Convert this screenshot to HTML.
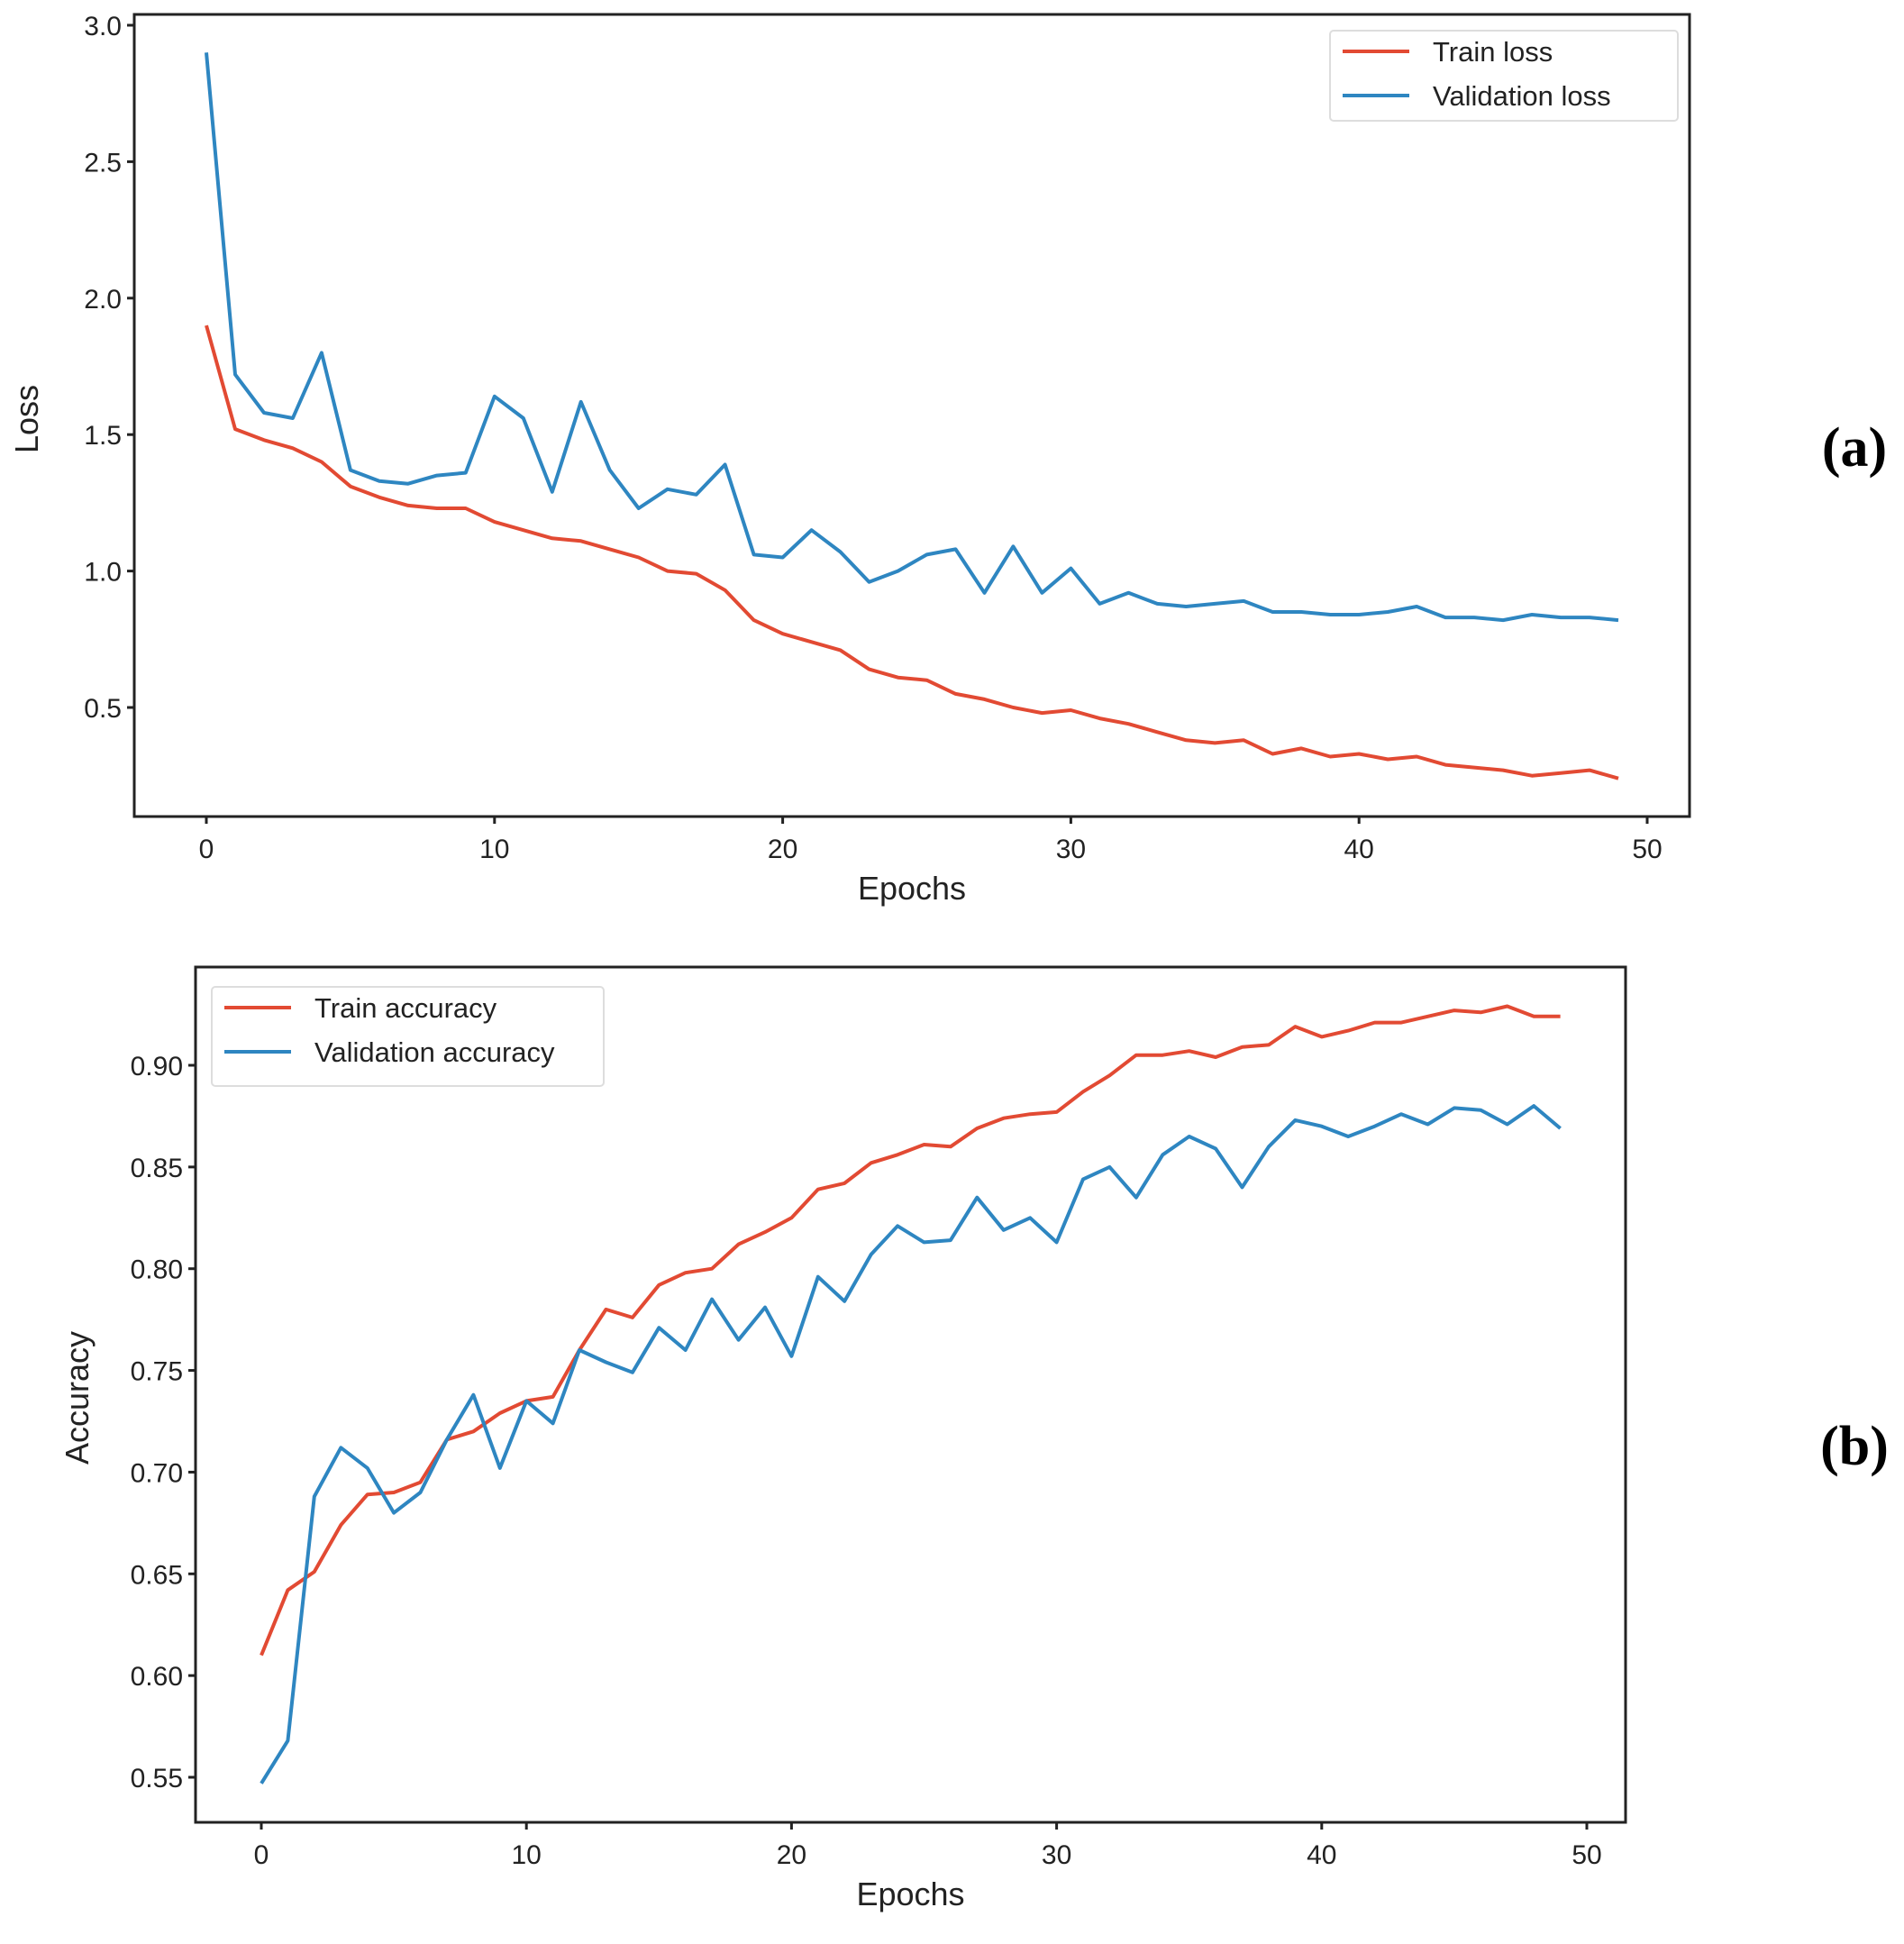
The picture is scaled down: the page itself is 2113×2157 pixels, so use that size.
<!DOCTYPE html>
<html><head><meta charset="utf-8"><style>
html,body{margin:0;padding:0;background:#fff;}
svg{display:block;font-family:"Liberation Sans",sans-serif;}
</style></head><body>
<svg id="s" width="2113" height="2157" xmlns="http://www.w3.org/2000/svg">
<rect width="2113" height="2157" fill="#fff"/>
<g id="g"></g>
<text x="2058" y="517" font-family="Liberation Serif" font-weight="bold" font-size="62" text-anchor="middle" fill="#000">(a)</text>
<text x="2058" y="1625" font-family="Liberation Serif" font-weight="bold" font-size="62" text-anchor="middle" fill="#000">(b)</text>
</svg>
<script>
const g=document.getElementById('g');let h='';
function plot(o){
 const X=e=>o.x0+e*(o.x50-o.x0)/50, Y=v=>o.yA+(v-o.vA)*(o.yB-o.yA)/(o.vB-o.vA);
 for(const [d,c] of [[o.a,'#e24a33'],[o.b,'#2e86c1']]){
  h+=`<polyline fill="none" stroke="${c}" stroke-width="4" stroke-linejoin="round" points="${d.map((v,i)=>X(i).toFixed(1)+','+Y(v).toFixed(1)).join(' ')}"/>`;}
 h+=`<rect x="${o.L}" y="${o.T}" width="${o.R-o.L}" height="${o.B-o.T}" fill="none" stroke="#222" stroke-width="3"/>`;
 for(let e=0;e<=50;e+=10){const x=X(e);h+=`<line x1="${x}" y1="${o.B}" x2="${x}" y2="${o.B+8}" stroke="#222" stroke-width="3"/><text x="${x}" y="${o.B+46}" font-size="30" text-anchor="middle" fill="#222">${e}</text>`;}
 for(const v of o.yt){const y=Y(v);h+=`<line x1="${o.L-8}" y1="${y}" x2="${o.L}" y2="${y}" stroke="#222" stroke-width="3"/><text x="${o.L-14}" y="${y+11}" font-size="30" text-anchor="end" fill="#222">${v.toFixed(o.dec)}</text>`;}
 h+=`<text x="${(o.L+o.R)/2}" y="${o.B+92}" font-size="36" text-anchor="middle" fill="#222">Epochs</text>`;
 h+=`<text transform="translate(${o.ylx},${o.yly}) rotate(-90)" font-size="36" text-anchor="middle" fill="#222">${o.yl}</text>`;
 const l=o.leg;h+=`<rect x="${l.x}" y="${l.y}" width="${l.w}" height="${l.h}" fill="#fff" stroke="#ddd" stroke-width="2" rx="4"/>`;
 l.t.forEach((t,i)=>{const y=l.y+23+i*49;h+=`<line x1="${l.x+14}" y1="${y}" x2="${l.x+88}" y2="${y}" stroke="${i?'#2e86c1':'#e24a33'}" stroke-width="4"/><text x="${l.x+114}" y="${y+11}" font-size="31" fill="#222">${t}</text>`;});
}
plot({L:149,R:1875,T:16,B:906,x0:229,x50:1828,yA:28,vA:3.0,yB:785,vB:0.5,yt:[0.5,1.0,1.5,2.0,2.5,3.0],dec:1,yl:'Loss',ylx:42,yly:465,
 leg:{x:1476,y:34,w:386,h:100,t:['Train loss','Validation loss']},
 a:[1.90,1.52,1.48,1.45,1.40,1.31,1.27,1.24,1.23,1.23,1.18,1.15,1.12,1.11,1.08,1.05,1.00,0.99,0.93,0.82,0.77,0.74,0.71,0.64,0.61,0.60,0.55,0.53,0.50,0.48,0.49,0.46,0.44,0.41,0.38,0.37,0.38,0.33,0.35,0.32,0.33,0.31,0.32,0.29,0.28,0.27,0.25,0.26,0.27,0.24],
 b:[2.90,1.72,1.58,1.56,1.80,1.37,1.33,1.32,1.35,1.36,1.64,1.56,1.29,1.62,1.37,1.23,1.30,1.28,1.39,1.06,1.05,1.15,1.07,0.96,1.00,1.06,1.08,0.92,1.09,0.92,1.01,0.88,0.92,0.88,0.87,0.88,0.89,0.85,0.85,0.84,0.84,0.85,0.87,0.83,0.83,0.82,0.84,0.83,0.83,0.82]});
plot({L:217,R:1804,T:1073,B:2022,x0:290,x50:1761,yA:1182,vA:0.90,yB:1972,vB:0.55,yt:[0.55,0.60,0.65,0.70,0.75,0.80,0.85,0.90],dec:2,yl:'Accuracy',ylx:98,yly:1551,
 leg:{x:235,y:1095,w:435,h:110,t:['Train accuracy','Validation accuracy']},
 a:[0.61,0.642,0.651,0.674,0.689,0.690,0.695,0.716,0.720,0.729,0.735,0.737,0.760,0.780,0.776,0.792,0.798,0.800,0.812,0.818,0.825,0.839,0.842,0.852,0.856,0.861,0.860,0.869,0.874,0.876,0.877,0.887,0.895,0.905,0.905,0.907,0.904,0.909,0.910,0.919,0.914,0.917,0.921,0.921,0.924,0.927,0.926,0.929,0.924,0.924],
 b:[0.547,0.568,0.688,0.712,0.702,0.680,0.690,0.716,0.738,0.702,0.735,0.724,0.760,0.754,0.749,0.771,0.760,0.785,0.765,0.781,0.757,0.796,0.784,0.807,0.821,0.813,0.814,0.835,0.819,0.825,0.813,0.844,0.850,0.835,0.856,0.865,0.859,0.840,0.860,0.873,0.870,0.865,0.870,0.876,0.871,0.879,0.878,0.871,0.880,0.869]});
g.innerHTML=h;
</script>
</body></html>
